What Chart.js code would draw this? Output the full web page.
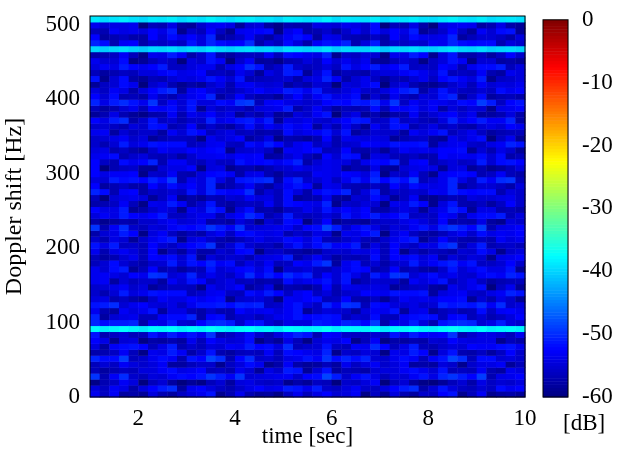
<!DOCTYPE html>
<html><head><meta charset="utf-8">
<script src="https://cdn.jsdelivr.net/npm/chart.js@4"></script>
<style>body{margin:0;background:#fff}#a{position:absolute;left:0;top:0;width:545px;height:463px}#b{position:absolute;left:530px;top:0;width:110px;height:463px}</style>
</head><body>
<div id="a"><canvas id="main"></canvas></div>
<div id="b"><canvas id="bar"></canvas></div>
<script>
// time columns (sec) and doppler rows (Hz), each cell 0.2 s x 8 Hz
const times = [];
for (let i = 0; i < 45; i++) times.push(+(1 + i * 0.2).toFixed(1));
const freqs = [];
for (let j = 0; j < 64; j++) freqs.push(j * 8);
// level per row (dB)
const rowLevel = [-56,-54,-57,-53,-55,-56,-53,-55,-54,-56,-54,-38,-53,-54,-55,-53,
  -55,-54,-56,-55,-53,-55,-54,-55,-56,-54,-55,-55,-53,-56,-54,-55,
  -55,-56,-54,-55,-53,-55,-56,-54,-55,-55,-54,-56,-55,-55,-54,-56,
  -55,-53,-55,-54,-56,-55,-55,-54,-56,-55,-40,-54,-55,-55,-56,-39];
// per-column offset (dB)
const colOffset = [0.5,-1,0,1,-0.5,-1.5,0.5,0,1,-1,0.5,-0.5,1.5,0,-1,0.5,1,-0.5,0,-1.5,1,0.5,-0.5,0,1.5,
  -1,0.5,0,-0.5,1,-1.5,0.5,0,1,-0.5,-1,0.5,1.5,0,-0.5,1,-1,0,0.5,-0.5];
// speckle pattern (dB), read loosely
const speckle = [2,-2,3,-1,0,2,-3,1,-2,3,-1,2,-2,1,3,-1,-3,1,2,-2,1,-3,2,0,-1];

function jet(v) {
  const x = Math.min(1, Math.max(0, (v + 60) / 60));
  const r = Math.min(1, Math.max(0, Math.min(4 * x - 1.5, -4 * x + 4.5)));
  const g = Math.min(1, Math.max(0, Math.min(4 * x - 0.5, -4 * x + 3.5)));
  const b = Math.min(1, Math.max(0, Math.min(4 * x + 0.5, -4 * x + 2.5)));
  return `rgb(${r * 255 | 0},${g * 255 | 0},${b * 255 | 0})`;
}

const cells = {
  id: "cells",
  beforeDatasetsDraw(chart) {
    const { ctx, scales: { x, y } } = chart;
    times.forEach((t, i) => {
      freqs.forEach((f, j) => {
        const line = rowLevel[j] > -45;
        const sp = speckle[(i * 7 + j * 3) % speckle.length];
        const v = rowLevel[j] + (line ? colOffset[i] * 0.5 : colOffset[i] + sp);
        const x0 = x.getPixelForValue(t), x1 = x.getPixelForValue(Math.min(10, t + 0.2));
        const y0 = y.getPixelForValue(f + 8), y1 = y.getPixelForValue(f);
        ctx.fillStyle = jet(v);
        ctx.fillRect(x0, y0, x1 - x0 + 0.5, y1 - y0 + 0.5);
      });
    });
  },
  afterDraw(chart) {
    const { ctx, chartArea: a } = chart;
    ctx.strokeStyle = "#000"; ctx.lineWidth = 1;
    ctx.strokeRect(a.left, a.top, a.right - a.left, a.bottom - a.top);
  }
};

const font = { family: "Liberation Serif", size: 23 };
Chart.defaults.color = "#000";
new Chart(document.getElementById("main"), {
  type: "scatter",
  data: { datasets: [{ data: [] }] },
  options: {
    responsive: true, maintainAspectRatio: false, animation: false,
    layout: { padding: { top: 16, right: 20, bottom: 12 } },
    plugins: { legend: { display: false }, tooltip: { enabled: false } },
    scales: {
      x: { min: 1, max: 10, grid: { display: false },
        ticks: { font, padding: 0 },
        afterBuildTicks: s => { s.ticks = [2,4,6,8,10].map(v => ({ value: v })); },
        afterFit: s => { s.height = 54; },
        title: { display: true, text: "time [sec]", font, padding: 0 } },
      y: { min: 0, max: 512, grid: { display: false },
        ticks: { font, padding: 2 },
        afterBuildTicks: s => { s.ticks = [0,100,200,300,400,500].map(v => ({ value: v })); },
        afterFit: s => { s.width = 90; },
        title: { display: true, text: "Doppler shift [Hz]", font: { family: "Liberation Serif", size: 24 }, padding: 0 } }
    }
  },
  plugins: [cells]
});

const grad = {
  id: "grad",
  beforeDatasetsDraw(chart) {
    const { ctx, chartArea: a, scales: { y } } = chart;
    for (let v = -60; v < 0; v += 0.5) {
      ctx.fillStyle = jet(v + 0.25);
      const p0 = y.getPixelForValue(v + 0.5), p1 = y.getPixelForValue(v);
      ctx.fillRect(a.left, p0, a.right - a.left, p1 - p0 + 0.5);
    }
    ctx.strokeStyle = "#000";
    ctx.strokeRect(a.left, a.top, a.right - a.left, a.bottom - a.top);
  }
};
new Chart(document.getElementById("bar"), {
  type: "scatter",
  data: { datasets: [{ data: [] }] },
  options: {
    responsive: true, maintainAspectRatio: false, animation: false,
    layout: { padding: { top: 16, left: 13, bottom: 66, right: 0 } },
    plugins: { legend: { display: false }, tooltip: { enabled: false } },
    scales: {
      x: { display: false, min: 0, max: 1 },
      y: { position: "right", min: -60, max: 0, grid: { display: false },
        ticks: { stepSize: 10, font, padding: 6 },
        afterFit: s => { s.width = 72; } }
    }
  },
  plugins: [grad, { id: "unit", afterDraw(c) {
    const ctx = c.ctx; ctx.font = "23px Liberation Serif"; ctx.fillStyle = "#000";
    ctx.textAlign = "left"; ctx.fillText("[dB]", c.chartArea.left + 20, c.chartArea.bottom + 33);
  } }]
});
</script>
</body></html>
